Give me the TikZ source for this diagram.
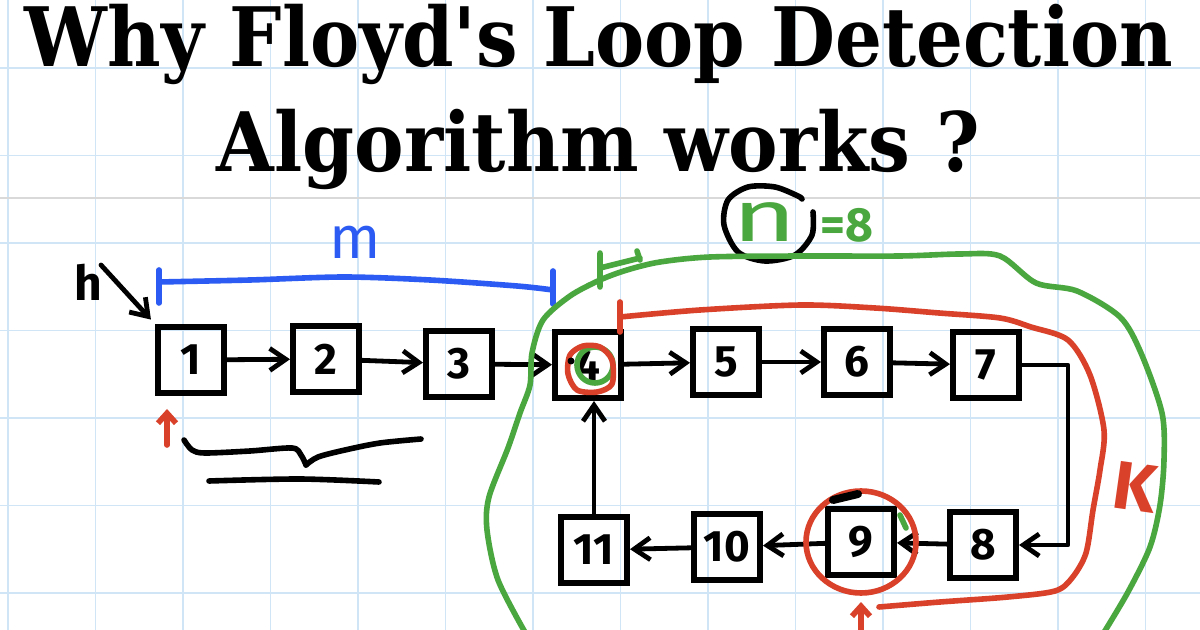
\documentclass[tikz,border=0pt]{standalone}
\usepackage{graphicx}
\usepackage{fontspec}
\setmainfont{DejaVu Serif}
\newfontfamily\handfont{Fira Sans}
\usetikzlibrary{arrows.meta,positioning}

\definecolor{penblue}{RGB}{43,91,242}
\definecolor{pengreen}{RGB}{74,166,63}
\definecolor{penred}{RGB}{217,65,43}
\definecolor{gridblue}{RGB}{208,230,247}

\begin{document}
\begin{tikzpicture}[x=0.5pt,y=-0.5pt,
  >={Straight Barb[length=8pt,width=11pt]},
  listnode/.style={draw,line width=3pt,minimum size=33pt,inner sep=0pt,
    font=\handfont\bfseries\fontsize{22}{22}\selectfont},
  link/.style={->,line width=2.4pt,line cap=round,line join=round},
  pen/.style={line width=2.8pt,line cap=round,line join=round},
  handtext/.style={inner sep=0pt,font=\handfont\fontsize{#1}{#1}\selectfont},
  titletext/.style={anchor=base,inner sep=0pt,text depth=0pt,font=\bfseries\fontsize{41}{41}\selectfont}]

\useasboundingbox (0,0) rectangle (1200,630);
\fill[white] (0,0) rectangle (1200,630);
\foreach \gx in {8,95.5,...,1200}
  \draw[gridblue,line width=0.8pt] (\gx,0) -- (\gx,630);
\foreach \gy in {68,155.5,...,630}
  \draw[gridblue,line width=0.8pt] (0,\gy) -- (1200,\gy);
\draw[black!15,line width=0.8pt] (0,198) -- (1200,198);

\node[titletext] (title1) at (599,67) {\resizebox{574pt}{\height}{Why Floyd\textquotesingle s Loop Detection}};
\node[titletext] (title2) at (598.5,172) {\resizebox{381.5pt}{\height}{Algorithm works ?}};

\node[listnode] (n1) at (191,360) {1};
\node[listnode] (n2) at (326,359) {2};
\node[listnode] (n3) at (459,364) {3};
\node[listnode] (n4) at (588,365) {4};
\node[listnode] (n5) at (726,362) {5};
\node[listnode] (n6) at (857,362) {6};
\node[listnode] (n7) at (986,365) {7};
\node[listnode] (n8) at (983,545) {8};
\node[listnode] (n9) at (861,542) {9};
\node[listnode] (n10) at (727,547) {10};
\node[listnode] (n11) at (594,550) {11};

\draw[link] (n1) -- (n2);
\draw[link] (n2) -- (n3);
\draw[link] (n3) -- (n4);
\draw[link] (n4) -- (n5);
\draw[link] (n5) -- (n6);
\draw[link] (n6) -- (n7);
\draw[link] (n7.east) -- ++(46,0) |- (n8.east);
\draw[link] (n8) -- (n9);
\draw[link] (n9) -- (n10);
\draw[link] (n10) -- (n11);
\draw[link] (n11.north) -- (n11.north |- n4.south);

\node[handtext=24,font=\handfont\bfseries\fontsize{24}{24}\selectfont] (hlabel) at (88,282) {h};
\coordinate (hstart) at (101,265);
\draw[link,shorten >=3pt] (hstart) -- (n1.north west);

\node[handtext=30,text=penblue] (mlabel) at (355,242) {m};
\draw[pen,penblue] (159,270) -- (159,303) (553,271) -- (553,304);
\draw[pen,penblue] plot[smooth] coordinates {(159,282) (250,280) (344,277) (430,280) (517,286) (553,290)};

\node[handtext=38,text=pengreen] (nlabel) at (765,222) {\scalebox{1.45}[0.95]{n}};
\draw[pen,black] plot[smooth] coordinates {(813,212) (812,235) (795,255) (765,261) (738,252) (724,225) (728,200) (748,187) (775,187) (798,196) (802,199)};
\node[handtext=24,text=pengreen,font=\handfont\bfseries\fontsize{24}{24}\selectfont] (eqeight) at (847,225) {=8};

\draw[pen,pengreen] plot[smooth] coordinates {(526,634) (498,580) (487,530) (489,497) (508,448) (520,413) (530,385) (532,353) (543,320) (570,296) (600,280) (627,270) (660,262) (710,257) (800,256) (900,256) (960,254) (1000,256) (1036,283) (1077,291) (1120,317) (1141,353) (1162,413) (1164,460) (1160,505) (1150,547) (1128,592) (1103,634)};
\draw[pen,pengreen] (600,253) -- (600,287) (600,268) -- (640,258) (637,251) -- (640,260);

\draw[pen,penred] (620,302) -- (620,332);
\draw[pen,penred] plot[smooth] coordinates {(620,317) (700,310) (801,305) (875,308) (939,313) (1000,318) (1031,327) (1068,340) (1090,375) (1104,430) (1100,470) (1093,510) (1086,553) (1072,578) (1055,591) (1008,597) (940,602) (879,607)};

\node[handtext=34,text=penred,rotate=-8,font=\handfont\bfseries\fontsize{34}{34}\selectfont] (klabel) at (1135,487) {K};

\draw[pen,penred] (n9) ellipse [x radius=55,y radius=51];
\draw[line width=4pt,line cap=round] (833,500) -- (858,494);
\draw[pen,pengreen] (900,515) -- (906,528);

\draw[pen,pengreen] (595,365) circle [radius=18];
\draw[pen,penred] plot[smooth cycle] coordinates {(570,355) (583,346) (600,347) (612,360) (612,384) (597,392) (577,390) (568,374)};
\fill (571,361) circle [radius=3.5];

\draw[pen,penred,-{Straight Barb[length=5pt,width=9pt]}] (167,445) -- (167,409);
\draw[pen,penred,-{Straight Barb[length=5pt,width=9pt]}] (861,634) -- (861,602);

\draw[pen,black] plot[smooth] coordinates {(184,440) (192,450) (205,453) (250,451) (292,448) (301,455) (306,465)};
\draw[pen,black] plot[smooth] coordinates {(306,465) (318,457) (345,450) (380,443) (421,439)};
\draw[pen,black] plot[smooth] coordinates {(209,481) (300,479) (379,482)};
\end{tikzpicture}
\end{document}
